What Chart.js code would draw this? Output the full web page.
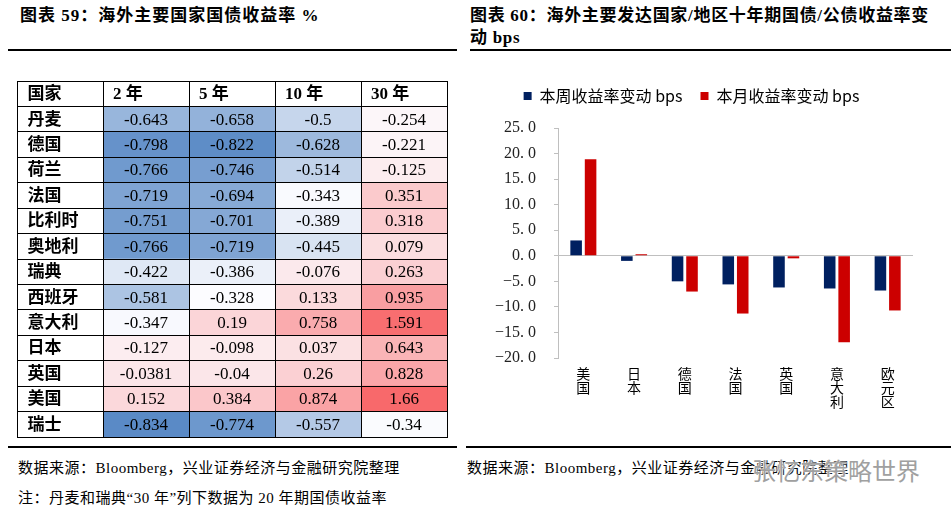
<!DOCTYPE html>
<html>
<head>
<meta charset="utf-8">
<script src="https://cdn.jsdelivr.net/npm/chart.js@4.4.0/dist/chart.umd.min.js"></script>
<style>
body { margin: 0; background: #fff; }
#page { position: relative; width: 951px; height: 510px; overflow: hidden; color: #000;
        font-family: "Liberation Serif", "Noto Sans CJK SC", serif; }
.title { position: absolute; font-weight: bold; font-size: 17px; line-height: 22px; letter-spacing: 1px; white-space: nowrap; }
.rule { position: absolute; height: 0; border-top: 2px solid #000; }
.note { position: absolute; font-size: 15px; line-height: 18px; letter-spacing: 0.5px; white-space: nowrap; }
.mark { position: absolute; font-family: "Noto Sans CJK SC"; font-size: 24px; color: #a0a0a0; white-space: nowrap;
        text-shadow: 0 0 2px #fff, 0 0 2px #fff; }
#tableBox { position: absolute; left: 0; top: 70px; width: 465px; height: 380px; }
#barBox { position: absolute; left: 470px; top: 70px; width: 481px; height: 348px; }
</style>
</head>
<body>
<div id="page">
  <div class="title" style="left:20px;top:5px;">图表 59：海外主要国家国债收益率 %</div>
  <div class="title" style="left:470px;top:5px;letter-spacing:0.7px;">图表 60：海外主要发达国家/地区十年期国债/公债收益率变<br>动 bps</div>
  <div class="rule" style="left:8px;top:49px;width:449px;"></div>
  <div class="rule" style="left:470px;top:49px;width:481px;"></div>

  <div id="tableBox"><canvas id="tableChart"></canvas></div>
  <div id="barBox"><canvas id="barChart"></canvas></div>

  <div class="rule" style="left:8px;top:446px;width:449px;"></div>
  <div class="rule" style="left:466px;top:446px;width:485px;"></div>
  <div class="note" style="left:18px;top:459px;">数据来源：Bloomberg，兴业证券经济与金融研究院整理</div>
  <div class="note" style="left:18px;top:489px;">注：丹麦和瑞典“30 年”列下数据为 20 年期国债收益率</div>
  <div class="note" style="left:467px;top:459px;">数据来源：Bloomberg，兴业证券经济与金融研究院整理</div>
  <div class="mark" style="left:752px;top:452px;">张忆东策略世界</div>
</div>

<script>
// table: yields in %, one array per tenor
var countries = ['丹麦', '德国', '荷兰', '法国', '比利时', '奥地利', '瑞典', '西班牙', '意大利', '日本', '英国', '美国', '瑞士'];
var tenors = ['2 年', '5 年', '10 年', '30 年'];
var yield2y = [-0.643, -0.798, -0.766, -0.719, -0.751, -0.766, -0.422, -0.581, -0.347, -0.127, -0.0381, 0.152, -0.834];
var yield5y = [-0.658, -0.822, -0.746, -0.694, -0.701, -0.719, -0.386, -0.328, 0.19, -0.098, -0.04, 0.384, -0.774];
var yield10y = [-0.5, -0.628, -0.514, -0.343, -0.389, -0.445, -0.076, 0.133, 0.758, 0.037, 0.26, 0.874, -0.557];
var yield30y = [-0.254, -0.221, -0.125, 0.351, 0.318, 0.079, 0.263, 0.935, 1.591, 0.643, 0.828, 1.66, -0.34];

// bar chart: 10y changes in bps
var regions = ['美国', '日本', '德国', '法国', '英国', '意大利', '欧元区'];
var weekChange = [3.0, -1.0, -5.0, -5.6, -6.2, -6.4, -6.8];
var monthChange = [18.9, 0.3, -7.0, -11.3, -0.5, -16.9, -10.7];

var columns = [yield2y, yield5y, yield10y, yield30y];

// excel style 3 colour scale: min blue, median white, max red
var sorted = [].concat.apply([], columns).sort(function(a, b) { return a - b; });
var vMin = sorted[0];
var vMax = sorted[sorted.length - 1];
var n = sorted.length;
var vMid = n % 2 ? sorted[(n - 1) / 2] : (sorted[n / 2 - 1] + sorted[n / 2]) / 2;
var blue = [90, 138, 198], white = [252, 252, 255], red = [248, 105, 107];

function mix(a, b, t) {
	return 'rgb(' + a.map(function(c, k) { return Math.round(c + (b[k] - c) * t); }).join(',') + ')';
}

function cellColor(v) {
	if (v <= vMid) return mix(blue, white, (v - vMin) / (vMid - vMin));
	return mix(white, red, (v - vMid) / (vMax - vMid));
}

var rowLabels = ['国家'].concat(countries);
var one = function() { return 1; };

var tableSets = [{
	label: '国家',
	data: rowLabels.map(one),
	backgroundColor: '#fff',
	texts: rowLabels
}];
for (var j = 0; j < columns.length; j++) {
	tableSets.push({
		label: tenors[j],
		data: rowLabels.map(one),
		backgroundColor: ['#fff'].concat(columns[j].map(cellColor)),
		texts: [tenors[j]].concat(columns[j].map(String))
	});
}

// writes header, country names and values into the cells
var cellText = {
	id: 'cellText',
	afterDatasetsDraw: function(chart) {
		var ctx = chart.ctx;
		chart.data.datasets.forEach(function(ds, d) {
			chart.getDatasetMeta(d).data.forEach(function(bar, i) {
				var left = Math.min(bar.x, bar.base);
				var right = Math.max(bar.x, bar.base);
				ctx.save();
				ctx.fillStyle = '#000';
				ctx.textBaseline = 'middle';
				if (d === 0 || i === 0) {
					ctx.font = 'bold 17px "Liberation Serif", "Noto Sans CJK SC"';
					ctx.textAlign = 'left';
					ctx.fillText(ds.texts[i], left + 10, bar.y + 1);
				} else {
					ctx.font = '17px "Liberation Serif"';
					ctx.textAlign = 'center';
					ctx.fillText(ds.texts[i], (left + right) / 2, bar.y + 1);
				}
				ctx.restore();
			});
		});
	}
};

new Chart(document.getElementById('tableChart'), {
	type: 'bar',
	data: { labels: rowLabels, datasets: tableSets },
	options: {
		indexAxis: 'y',
		responsive: true,
		maintainAspectRatio: false,
		animation: false,
		layout: { padding: { left: 17, right: 18, top: 11, bottom: 13 } },
		plugins: { legend: { display: false }, tooltip: { enabled: false } },
		datasets: { bar: { categoryPercentage: 1, barPercentage: 1, borderWidth: 0 } },
		scales: {
			x: {
				stacked: true, min: 0, max: 5,
				ticks: { display: false, stepSize: 1 },
				grid: { color: '#000', lineWidth: 1, drawTicks: false, z: 1 },
				border: { color: '#000', z: 1 }
			},
			y: {
				stacked: true,
				ticks: { display: false },
				grid: { color: '#000', lineWidth: 1, drawTicks: false, offset: true, z: 1 },
				border: { color: '#000', z: 1 }
			}
		}
	},
	plugins: [cellText]
});

// extra room under the legend
var legendGap = {
	id: 'legendGap',
	beforeInit: function(chart) {
		var fit = chart.legend.fit;
		chart.legend.fit = function() {
			fit.bind(chart.legend)();
			this.height += 14;
		};
	}
};

new Chart(document.getElementById('barChart'), {
	type: 'bar',
	data: {
		labels: regions.map(function(r) { return r.split(''); }),
		datasets: [{
			label: '本周收益率变动 bps',
			data: weekChange,
			backgroundColor: '#002060'
		}, {
			label: '本月收益率变动 bps',
			data: monthChange,
			backgroundColor: '#CC0000'
		}]
	},
	options: {
		responsive: true,
		maintainAspectRatio: false,
		animation: false,
		layout: { padding: { left: 0, right: 38, top: 0, bottom: 0 } },
		datasets: { bar: { categoryPercentage: 0.57, barPercentage: 0.8 } },
		plugins: {
			tooltip: { enabled: false },
			legend: {
				position: 'top',
				labels: {
					boxWidth: 8, boxHeight: 8, padding: 18, color: '#000',
					font: { size: 16, family: '"Noto Sans CJK SC", "Liberation Serif"' }
				}
			}
		},
		scales: {
			x: {
				grid: { display: false, drawTicks: false },
				border: { display: false },
				ticks: {
					color: '#000', padding: 9, maxRotation: 0, autoSkip: false,
					font: { size: 14, family: '"Noto Sans CJK SC"', lineHeight: 1.0 }
				},
				afterFit: function(s) { s.height = 60; }
			},
			y: {
				min: -20, max: 25,
				ticks: {
					stepSize: 5, color: '#222', padding: 18,
					font: { size: 16, family: '"Liberation Serif"' },
					callback: function(v) { return v.toFixed(1).replace('.', '. ').replace('-', '\u2212'); }
				},
				grid: {
					color: function(c) { return c.tick && c.tick.value === 0 ? '#BFBFBF' : 'rgba(0,0,0,0)'; },
					tickColor: '#BFBFBF', tickLength: 4
				},
				border: { color: '#BFBFBF' },
				afterFit: function(s) { s.width = 88; }
			}
		}
	},
	plugins: [legendGap]
});
</script>
</body>
</html>
